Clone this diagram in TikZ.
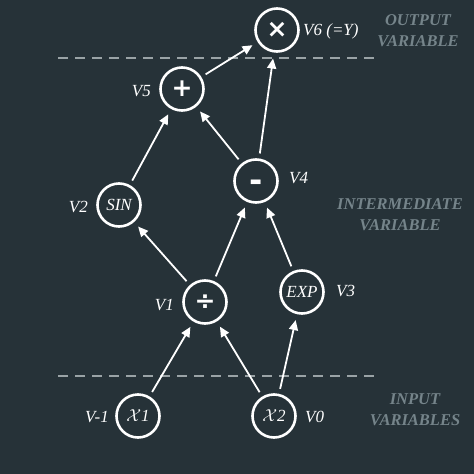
\documentclass[tikz,border=0pt]{standalone}
\usepackage{fontspec}
\setmainfont{Liberation Serif}
\newfontfamily\symfont{DejaVu Sans}
\usetikzlibrary{arrows.meta}
\definecolor{bg}{HTML}{263238}
\definecolor{lbl}{HTML}{75848A}
\definecolor{dashc}{HTML}{9AA3A6}
\begin{document}
\begin{tikzpicture}[x=1pt,y=-1pt,
 opnode/.style={circle,draw=white,line width=2.6pt,minimum size=43pt,inner sep=0pt,text=white,font=\itshape\fontsize{17}{17}\selectfont},
 symb/.style={font=\symfont\bfseries\fontsize{25}{25}\selectfont},
 vlabel/.style={text=white,font=\itshape\fontsize{17}{17}\selectfont,inner sep=0pt},
 catlabel/.style={text=lbl,font=\bfseries\itshape\fontsize{16.5}{21}\selectfont,align=center},
 edge/.style={draw=white,line width=1.8pt,-{Triangle[length=10pt,width=9pt]},shorten >=6pt,shorten <=5pt},
 sep/.style={draw=dashc,dash pattern=on 10pt off 7pt,line width=1.4pt}]
\fill[bg] (0,0) rectangle (474,474);
\useasboundingbox (0,0) rectangle (474,474);
% separators
\coordinate (tl) at (58,58);
\coordinate (tr) at (376,58);
\coordinate (bl) at (58,376);
\coordinate (br) at (376,376);
\draw[sep] (tl) -- (tr);
\draw[sep] (bl) -- (br);
% nodes
\node[opnode,symb] (v6) at (277,30) {×};
\node[opnode,symb] (v5) at (182,89) {+};
\node[opnode,symb,font=\symfont\bfseries\fontsize{32}{32}\selectfont] (v4) at (256,181) {\raisebox{-10pt}[0pt][0pt]{-}};
\node[opnode] (v2) at (119,205) {SIN};
\node[opnode,symb] (v1) at (205,302) {÷};
\node[opnode] (v3) at (302,292) {EXP};
\node[opnode] (x1) at (138,416) {{\fontsize{19}{19}\selectfont$\mathcal{X}$}1};
\node[opnode] (x2) at (274,416) {{\fontsize{19}{19}\selectfont$\mathcal{X}$}2};
% variable labels
\node[vlabel,anchor=west] (l6) at (303,31) {V6 (=Y)};
\node[vlabel,anchor=east] (l5) at (151,91) {V5};
\node[vlabel,anchor=west] (l4) at (289,178) {V4};
\node[vlabel,anchor=east] (l2) at (88,207) {V2};
\node[vlabel,anchor=east] (l1) at (174,305) {V1};
\node[vlabel,anchor=west] (l3) at (336,291) {V3};
\node[vlabel,anchor=east] (lm1) at (109,417) {V-1};
\node[vlabel,anchor=west] (l0) at (305,417) {V0};
% category labels
\node[catlabel] (out) at (418,31) {OUTPUT\\VARIABLE};
\node[catlabel] (mid) at (400,215) {INTERMEDIATE\\VARIABLE};
\node[catlabel] (inp) at (415,410) {INPUT\\VARIABLES};
% edges
\draw[edge] (x1) -- (v1);
\draw[edge] (x2) -- (v1);
\draw[edge] (x2) -- (v3);
\draw[edge] (v1) -- (v2);
\draw[edge] (v1) -- (v4);
\draw[edge] (v3) -- (v4);
\draw[edge] (v2) -- (v5);
\draw[edge] (v4) -- (v5);
\draw[edge] (v4) -- (v6);
\draw[edge] (v5) -- (v6);
\end{tikzpicture}
\end{document}
